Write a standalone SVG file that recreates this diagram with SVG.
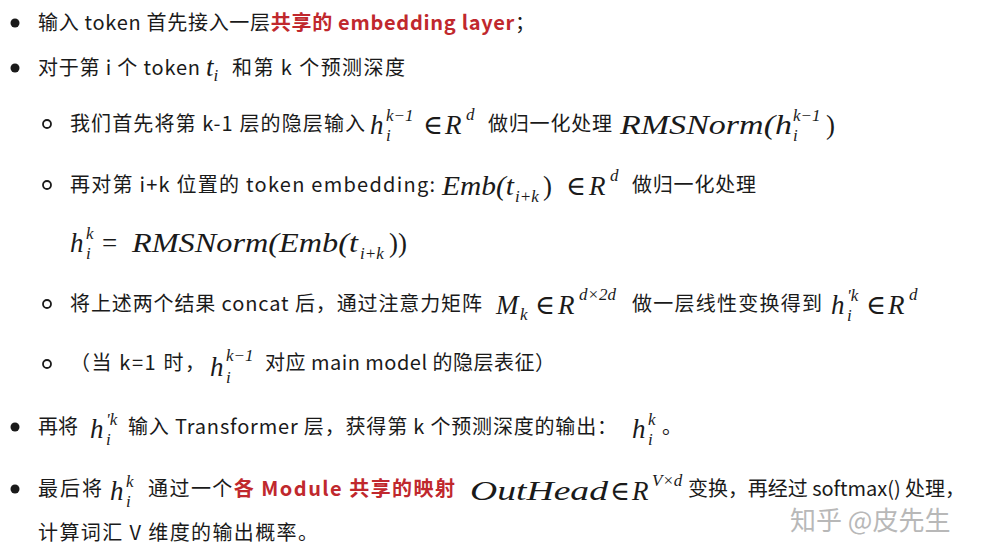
<svg xmlns="http://www.w3.org/2000/svg" width="982" height="559" viewBox="0 0 982 559">
<style>
.t{font-family:"Noto Sans CJK SC","Noto Sans",sans-serif;font-size:20px;fill:#1a1a1a}
.r{font-family:"Noto Sans CJK SC","Noto Sans",sans-serif;font-size:20px;fill:#c0282d;font-weight:bold}
.m{font-family:"Liberation Serif","DejaVu Serif",serif;font-style:italic;font-size:27px;fill:#1a1a1a}
.n{font-family:"Liberation Serif","DejaVu Serif",serif;font-size:27px;fill:#1a1a1a}
.s{font-size:17px}
.w{font-family:"Noto Sans CJK SC",sans-serif;font-size:26px;fill:#b8b8b8}
</style>
<rect width="982" height="559" fill="#fff"/>
<g fill="#1a1a1a">
<circle cx="15" cy="23" r="4.5"/><circle cx="15" cy="68" r="4.5"/><circle cx="15" cy="427" r="4.5"/><circle cx="15" cy="489" r="4.5"/>
</g>
<g fill="none" stroke="#1a1a1a" stroke-width="1.8">
<circle cx="47" cy="124" r="4"/><circle cx="47" cy="185" r="4"/><circle cx="47" cy="304" r="4"/><circle cx="47" cy="364" r="4"/>
</g>
<g id="l1"><text x="38" y="30" class="t" textLength="497">输入 token 首先接入一层<tspan class="r">共享的 embedding layer</tspan>；</text></g>
<g id="l2"><text x="38" y="75" class="t" textLength="162">对于第 i 个 token</text><text x="206" y="76" class="m">t<tspan class="s" dy="5">i</tspan></text><text x="232" y="75" class="t" textLength="173">和第 k 个预测深度</text></g>
<g id="l3"><text x="70" y="131" class="t" textLength="295">我们首先将第 k-1 层的隐层输入</text>
<text x="370" y="134" class="m">h</text><text x="386" y="141" class="m s">i</text><text x="386" y="121" class="m s">k−1</text>
<text x="423" y="134" class="n">∈</text><text x="445" y="134" class="m">R</text><text x="466" y="120" class="m s">d</text>
<text x="488" y="131" class="t" textLength="124">做归一化处理</text>
<text x="620" y="134" class="m" textLength="172" lengthAdjust="spacingAndGlyphs">RMSNorm(h</text><text x="793" y="141" class="m s">i</text><text x="793" y="121" class="m s">k−1</text><text x="826" y="134" class="n">)</text></g>
<g id="l4"><text x="70" y="192" class="t" textLength="365">再对第 i+k 位置的 token embedding:</text>
<text x="442" y="195" class="m" textLength="72" lengthAdjust="spacingAndGlyphs">Emb(t</text><text x="515" y="202" class="m s">i+k</text><text x="543" y="195" class="n">)</text>
<text x="566" y="195" class="n">∈</text><text x="589" y="195" class="m">R</text><text x="610" y="181" class="m s">d</text>
<text x="632" y="192" class="t" textLength="124">做归一化处理</text></g>
<g id="l5"><text x="70" y="252" class="m">h</text><text x="86" y="259" class="m s">i</text><text x="86" y="239" class="m s">k</text>
<text x="102" y="252" class="n">=</text><text x="132" y="252" class="m" textLength="226" lengthAdjust="spacingAndGlyphs">RMSNorm(Emb(t</text><text x="360" y="259" class="m s">i+k</text><text x="389" y="252" class="n">))</text></g>
<g id="l6"><text x="70" y="311" class="t" textLength="412">将上述两个结果 concat 后，通过注意力矩阵</text>
<text x="496" y="314" class="m">M</text><text x="520" y="320" class="m s">k</text>
<text x="535" y="314" class="n">∈</text><text x="558" y="314" class="m">R</text><text x="579" y="300" class="m s">d×2d</text>
<text x="632" y="311" class="t" textLength="190">做一层线性变换得到</text>
<text x="831" y="314" class="m">h</text><text x="847" y="321" class="m s">i</text><text x="847" y="301" class="m s">'k</text>
<text x="866" y="314" class="n">∈</text><text x="888" y="314" class="m">R</text><text x="909" y="300" class="m s">d</text></g>
<g id="l7"><text x="70" y="370" class="t" textLength="135">（当 k=1 时，</text>
<text x="210" y="376" class="m">h</text><text x="226" y="383" class="m s">i</text><text x="226" y="361" class="m s">k−1</text>
<text x="265" y="370" class="t" textLength="290">对应 main model 的隐层表征）</text></g>
<g id="l8"><text x="38" y="434" class="t">再将</text>
<text x="90" y="438" class="m">h</text><text x="106" y="445" class="m s">i</text><text x="106" y="425" class="m s">'k</text>
<text x="128" y="434" class="t" textLength="489">输入 Transformer 层，获得第 k 个预测深度的输出：</text>
<text x="632" y="438" class="m">h</text><text x="648" y="445" class="m s">i</text><text x="648" y="425" class="m s">k</text>
<text x="662" y="434" class="t">。</text></g>
<g id="l9"><text x="38" y="496" class="t" textLength="64">最后将</text>
<text x="110" y="500" class="m">h</text><text x="126" y="507" class="m s">i</text><text x="126" y="487" class="m s">k</text>
<text x="148" y="496" class="t" textLength="307">通过一个<tspan class="r">各 Module 共享的映射</tspan></text>
<text x="470" y="500" class="m" textLength="138" lengthAdjust="spacingAndGlyphs">OutHead</text><text x="610" y="500" class="n">∈</text><text x="632" y="500" class="m">R</text><text x="652" y="486" class="m s">V×d</text>
<text x="688" y="496" class="t" textLength="277">变换，再经过 softmax() 处理，</text>
<text x="38" y="540" class="t" textLength="280">计算词汇 V 维度的输出概率。</text></g>
<text x="790" y="530" class="w">知乎 @皮先生</text>
</svg>
